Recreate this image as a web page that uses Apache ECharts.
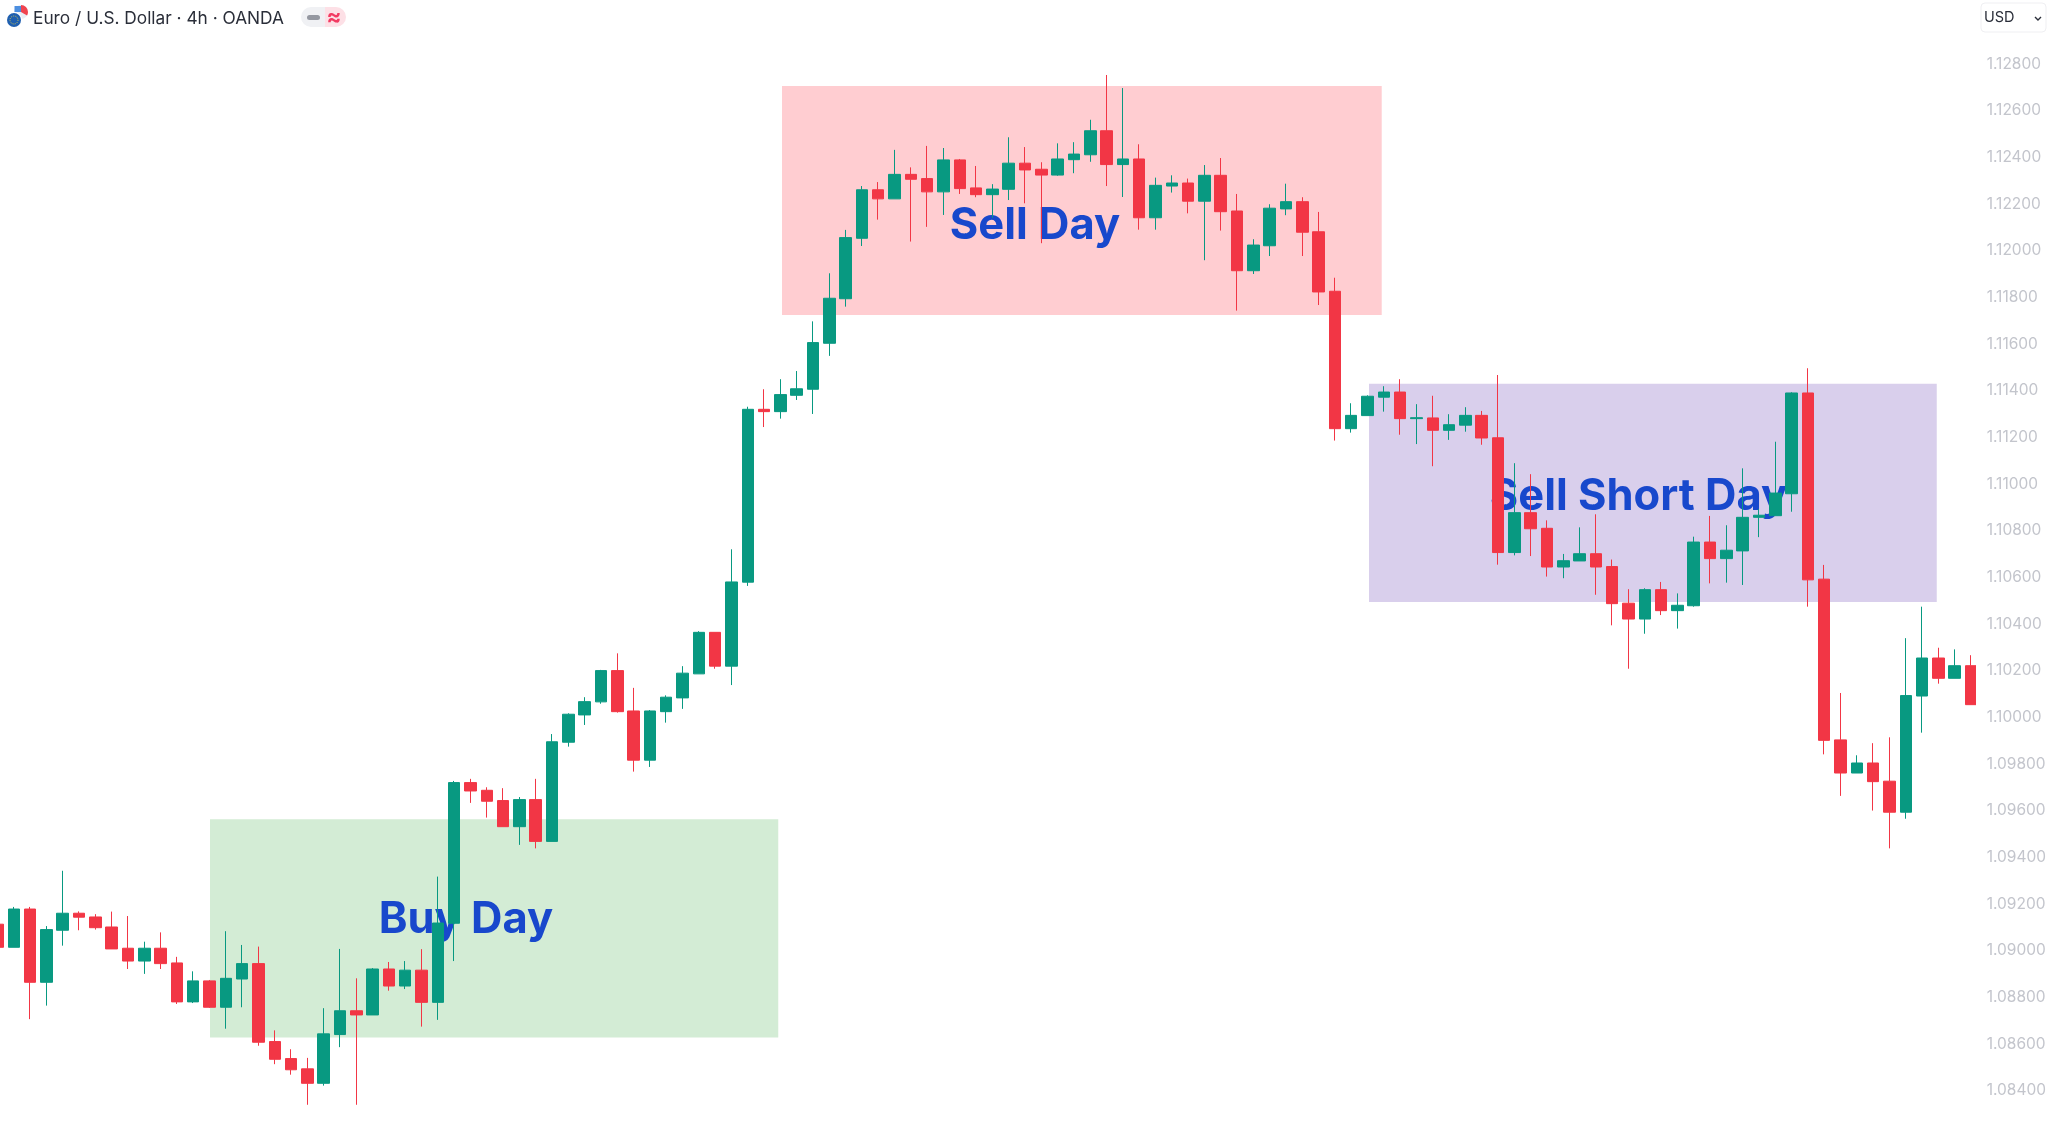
<!DOCTYPE html>
<html>
<head>
<meta charset="utf-8">
<style>html,body{margin:0;padding:0;background:#fff}#c{width:2048px;height:1121px}</style>
<script src="https://cdn.jsdelivr.net/npm/echarts@6/dist/echarts.min.js"></script>
</head>
<body>
<div id="c"></div>
<script>
// [open, close, low, high]
const ohlc = [
[1.09113,1.09014,1.09007,1.09123],[1.09014,1.09178,1.09014,1.09187],[1.09178,1.08864,1.08706,1.09187],[1.08864,1.09090,1.08764,1.09105],
[1.09087,1.09160,1.09021,1.09342],[1.09160,1.09143,1.09087,1.09168],[1.09144,1.09098,1.09090,1.09156],[1.09101,1.09007,1.09007,1.09167],
[1.09010,1.08955,1.08921,1.09148],[1.08955,1.09010,1.08900,1.09038],[1.09010,1.08944,1.08921,1.09078],[1.08947,1.08780,1.08771,1.08973],
[1.08780,1.08870,1.08775,1.08911],[1.08870,1.08757,1.08754,1.08874],[1.08757,1.08881,1.08665,1.09083],[1.08878,1.08944,1.08757,1.09024],
[1.08944,1.08607,1.08592,1.09017],[1.08610,1.08534,1.08513,1.08658],[1.08537,1.08489,1.08468,1.08577],[1.08493,1.08431,1.08339,1.08540],
[1.08431,1.08643,1.08421,1.08753],[1.08640,1.08742,1.08586,1.09007],[1.08742,1.08724,1.08339,1.08881],[1.08724,1.08921,1.08724,1.08925],
[1.08921,1.08848,1.08828,1.08951],[1.08848,1.08916,1.08835,1.08955],[1.08916,1.08778,1.08674,1.09006],[1.08778,1.09118,1.08703,1.09317],
[1.09117,1.09720,1.08955,1.09727],[1.09720,1.09684,1.09633,1.09736],[1.09687,1.09640,1.09570,1.09700],[1.09643,1.09531,1.09531,1.09696],
[1.09531,1.09647,1.09453,1.09658],[1.09647,1.09468,1.09438,1.09736],[1.09468,1.09895,1.09468,1.09928],[1.09893,1.10013,1.09874,1.10017],
[1.10010,1.10067,1.09967,1.10086],[1.10066,1.10200,1.10058,1.10203],[1.10200,1.10024,1.10020,1.10274],[1.10027,1.09816,1.09767,1.10126],
[1.09816,1.10027,1.09787,1.10031],[1.10024,1.10086,1.09977,1.10094],[1.10083,1.10189,1.10036,1.10219],[1.10186,1.10364,1.10186,1.10369],
[1.10364,1.10219,1.10208,1.10364],[1.10219,1.10580,1.10138,1.10720],[1.10579,1.11320,1.10563,1.11331],[1.11320,1.11310,1.11244,1.11406],
[1.11310,1.11383,1.11280,1.11449],[1.11380,1.11408,1.11360,1.11484],[1.11406,1.11606,1.11300,1.11697],[1.11603,1.11796,1.11549,1.11903],
[1.11794,1.12056,1.11760,1.12089],[1.12053,1.12261,1.12020,1.12277],[1.12261,1.12222,1.12133,1.12294],[1.12222,1.12327,1.12222,1.12432],
[1.12327,1.12306,1.12039,1.12357],[1.12309,1.12252,1.12102,1.12449],[1.12252,1.12389,1.12153,1.12440],[1.12389,1.12266,1.12243,1.12393],
[1.12269,1.12240,1.12229,1.12363],[1.12240,1.12264,1.12141,1.12285],[1.12263,1.12375,1.12217,1.12486],[1.12375,1.12346,1.12203,1.12444],
[1.12349,1.12324,1.12032,1.12379],[1.12324,1.12393,1.12321,1.12460],[1.12390,1.12414,1.12332,1.12465],[1.12411,1.12514,1.12381,1.12561],
[1.12514,1.12369,1.12277,1.12753],[1.12369,1.12393,1.12230,1.12697],[1.12393,1.12141,1.12090,1.12456],[1.12141,1.12280,1.12090,1.12313],
[1.12277,1.12290,1.12249,1.12323],[1.12290,1.12212,1.12160,1.12309],[1.12212,1.12323,1.11959,1.12367],[1.12323,1.12167,1.12086,1.12397],
[1.12170,1.11914,1.11743,1.12243],[1.11914,1.12024,1.11900,1.12049],[1.12021,1.12182,1.11977,1.12199],[1.12179,1.12210,1.12152,1.12287],
[1.12210,1.12079,1.11977,1.12229],[1.12081,1.11823,1.11767,1.12166],[1.11826,1.11237,1.11186,1.11884],[1.11237,1.11294,1.11220,1.11346],
[1.11293,1.11376,1.11293,1.11380],[1.11372,1.11394,1.11310,1.11419],[1.11394,1.11280,1.11211,1.11449],[1.11280,1.11284,1.11171,1.11342],
[1.11283,1.11230,1.11076,1.11378],[1.11230,1.11254,1.11189,1.11299],[1.11252,1.11294,1.11224,1.11329],[1.11294,1.11197,1.11168,1.11313],
[1.11198,1.10706,1.10654,1.11467],[1.10706,1.10877,1.10694,1.11089],[1.10877,1.10808,1.10691,1.11042],[1.10810,1.10644,1.10603,1.10844],
[1.10644,1.10671,1.10596,1.10700],[1.10670,1.10701,1.10670,1.10814],[1.10701,1.10644,1.10525,1.10870],[1.10646,1.10487,1.10394,1.10676],
[1.10489,1.10421,1.10208,1.10549],[1.10421,1.10547,1.10358,1.10553],[1.10547,1.10457,1.10438,1.10580],[1.10457,1.10480,1.10380,1.10531],
[1.10478,1.10751,1.10474,1.10774],[1.10751,1.10680,1.10574,1.10863],[1.10680,1.10716,1.10577,1.10823],[1.10713,1.10857,1.10567,1.11067],
[1.10857,1.10866,1.10772,1.10893],[1.10864,1.10961,1.10864,1.11181],[1.10958,1.11390,1.10881,1.11393],[1.11390,1.10589,1.10474,1.11496],
[1.10592,1.09901,1.09841,1.10653],[1.09903,1.09761,1.09663,1.10104],[1.09761,1.09804,1.09761,1.09837],[1.09804,1.09724,1.09600,1.09889],
[1.09726,1.09593,1.09438,1.09914],[1.09593,1.10093,1.09565,1.10339],[1.10091,1.10254,1.09934,1.10474],[1.10254,1.10167,1.10144,1.10298],
[1.10167,1.10221,1.10167,1.10291],[1.10221,1.10054,1.10054,1.10266]
];
const barIndex = ohlc.map((_, i) => String(i));
const priceTicks = ['1.12800','1.12600','1.12400','1.12200','1.12000','1.11800','1.11600','1.11400','1.11200','1.11000','1.10800','1.10600','1.10400','1.10200','1.10000','1.09800','1.09600','1.09400','1.09200','1.09000','1.08800','1.08600','1.08400'];
// zone: bar from, bar to, price high, price low
const zoneBuy = [13.03, 47.87, 1.09563, 1.08627];
const zoneSell = [48.10, 84.87, 1.12706, 1.11724];
const zoneShort = [84.09, 118.90, 1.11430, 1.10494];
// annotation: bar, price, text
const labelBuy = [28.72, 1.09131, 'Buy Day'];
const labelSell = [63.61, 1.12108, 'Sell Day'];
const labelShort = [100.61, 1.10946, 'Sell Short Day'];

const UP = '#089981', DOWN = '#F23645', FONT = 'Inter, "Liberation Sans", sans-serif';
const N = ohlc.length;
const chart = echarts.init(document.getElementById('c'), null, {renderer: 'canvas'});

function zoneData(z, color) {
  return [{itemStyle: {color, opacity:1}, coord: [z[0], z[2]]}, {coord: [z[1], z[3]]}];
}
const header = [
  {type:'circle', shape:{cx:21,cy:12,r:7}, style:{fill:'#e8edf5'}, z:10},
  {type:'sector', shape:{cx:21,cy:12,r:7,r0:0,startAngle:-Math.PI/2,endAngle:Math.PI/6}, style:{fill:'#f0444f'}, z:11},
  {type:'rect', shape:{x:14.5,y:6,width:6.5,height:6}, style:{fill:'#4d8fe0'}, z:11},
  {type:'circle', shape:{cx:14,cy:20,r:8}, style:{fill:'#fff'}, z:12},
  {type:'circle', shape:{cx:14,cy:20,r:7}, style:{fill:'#1f5fb0'}, z:13},
  {type:'circle', shape:{cx:14,cy:20,r:4}, style:{fill:'none',stroke:'#d9c94a',lineWidth:1,lineDash:[1,1.2]}, z:14},
  {type:'text', x:33, y:19, style:{text:'Euro / U.S. Dollar · 4h · OANDA', font:'400 17.3px '+FONT, fill:'#2a2e39', textVerticalAlign:'middle'}, z:10},
  {type:'rect', shape:{x:301,y:7,width:24,height:20,r:[10,0,0,10]}, style:{fill:'#f0f1f4'}, z:10},
  {type:'rect', shape:{x:325,y:7,width:21,height:20,r:[0,10,10,0]}, style:{fill:'#fde0e6'}, z:10},
  {type:'rect', shape:{x:307,y:15,width:13,height:5,r:2.5}, style:{fill:'#9598a1'}, z:11},
  {type:'text', x:334, y:17, style:{text:'≈', font:'700 22px '+FONT, fill:'#f23a62', textAlign:'center', textVerticalAlign:'middle'}, z:11},
  {type:'rect', shape:{x:1981,y:3,width:65,height:29,r:4}, style:{fill:'#fff',stroke:'#efeff2',lineWidth:1}, z:10},
  {type:'text', x:1984, y:18, style:{text:'USD', font:'400 14.5px '+FONT, fill:'#2a2e39', textVerticalAlign:'middle'}, z:11},
  {type:'polyline', shape:{points:[[2035,17],[2038,20],[2041,17]]}, style:{stroke:'#2a2e39',lineWidth:1.4,fill:'none'}, z:11},
  {type:'rect', shape:{x:1976,y:0,width:4,height:1121}, style:{fill:'#fff'}, z:9}
];
function labelPoint(l) {
  return {value:[l[0], l[1]], name:l[2]};
}
chart.setOption({
  animation:false,
  backgroundColor:'#ffffff',
  grid:{left:-10.66, width:1989.82, top:-29.3, height:1166.5, containLabel:false, outerBoundsMode:'none'},
  xAxis:[
    {type:'category', data:barIndex, boundaryGap:true, show:false},
    {type:'value', min:-0.5, max:N-0.5, show:false, splitLine:{show:false}}
  ],
  yAxis:{type:'value', position:'right', min:1.082, max:1.132, interval:0.002, scale:true,
    axisLine:{show:false}, axisTick:{show:false}, splitLine:{show:false},
    axisLabel:{margin:7.5, padding:[2,0,0,0], color:'#c3c5cc', fontSize:15.5, fontFamily:FONT, showMinLabel:true, showMaxLabel:true,
      formatter:v=>{const s=v.toFixed(5); return priceTicks.includes(s)?s:'';}}
  },
  graphic:{elements:header},
  series:[
    {type:'line', xAxisIndex:1, data:[], z:1, silent:true,
      markArea:{silent:true, z:1, data:[zoneData(zoneBuy,'#d3ecd5'),zoneData(zoneSell,'#ffcdd1'),zoneData(zoneShort,'#d9cfec')]}},
    {type:'scatter', xAxisIndex:1, z:2, symbolSize:0, silent:true, itemStyle:{opacity:1},
      data:[labelPoint(labelBuy),labelPoint(labelSell),labelPoint(labelShort)],
      label:{show:true, position:'inside', formatter:'{b}', opacity:1, color:'#1848cc', fontFamily:FONT, fontWeight:700, fontSize:43.5, align:'center', verticalAlign:'middle'}},
    {type:'candlestick', xAxisIndex:0, data:ohlc, barWidth:12, z:3, clip:true, silent:true,
      itemStyle:{color:UP, color0:DOWN, borderColor:UP, borderColor0:DOWN, borderWidth:1}}
  ]
});
</script>
</body>
</html>
